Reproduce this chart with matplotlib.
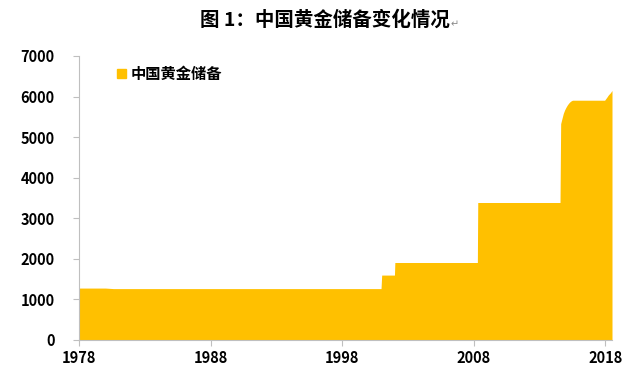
import matplotlib
matplotlib.use("Agg")
import matplotlib.pyplot as plt
from matplotlib.patches import Rectangle

plt.rcParams['font.family'] = ['Noto Sans CJK SC', 'DejaVu Sans']

# Data (x position in years as drawn on the chart, reserves in 10k oz)
years = [1978.0, 1980.0, 1980.6, 2000.95, 2001.0, 2001.97, 2002.0, 2008.27, 2008.3,
         2014.55, 2014.6, 2014.7, 2014.8, 2014.9, 2015.0, 2015.1, 2015.2, 2015.3,
         2015.4, 2015.5, 2017.94, 2018.03, 2018.12, 2018.2, 2018.28, 2018.37, 2018.5]
reserves = [1280, 1280, 1267, 1267, 1600, 1600, 1910, 1910, 3389,
            3389, 5332, 5460, 5585, 5670, 5735, 5790, 5835, 5870,
            5895, 5910, 5910, 5950, 5990, 6030, 6060, 6090, 6150]
series_name = "中国黄金储备"
title = "图 1：中国黄金储备变化情况"
xticks = [1978, 1988, 1998, 2008, 2018]
yticks = [0, 1000, 2000, 3000, 4000, 5000, 6000, 7000]

color = "#FFC000"
fig = plt.figure(figsize=(6.37, 3.81), dpi=100)
ax = fig.add_axes([79/637, 1-340/381, (612-79)/637, (340-56)/381])
ax.fill_between(years, reserves, 0, color=color, linewidth=0)
ax.set_xlim(1978, 2018.5)
ax.set_ylim(0, 7000)
ax.set_xticks(xticks)
ax.set_yticks(yticks)
for s in ['top', 'right']:
    ax.spines[s].set_visible(False)
for s in ['left', 'bottom']:
    ax.spines[s].set_color('#BFBFBF')
    ax.spines[s].set_linewidth(0.8)
ax.tick_params(axis='both', colors='#BFBFBF', length=4.5, width=0.8, direction='out')
ax.tick_params(axis='both', labelcolor='black', labelsize=10.5)
for lab in ax.get_xticklabels() + ax.get_yticklabels():
    lab.set_fontweight('bold')
ax.tick_params(axis='y', pad=13)
ax.tick_params(axis='x', pad=3)

t = fig.text(0, 1-20/381, title, ha='right', va='center', fontsize=14, fontweight='bold')
fig.canvas.draw()
bb = t.get_window_extent(fig.canvas.get_renderer())
t.set_x(450/637)
fig.text(451/637, 1-24/381, "↵", ha='left', va='center', fontsize=7, color='#888888',
         family=['DejaVu Sans'])

# legend
fig.patches.append(Rectangle((117/637, 1-78/381), 9/637, 9/381, transform=fig.transFigure,
                             color=color))
fig.text(131/637, 1-73.5/381, series_name, ha='left', va='center', fontsize=11,
         fontweight='bold')

fig.savefig("out.png", dpi=100)
